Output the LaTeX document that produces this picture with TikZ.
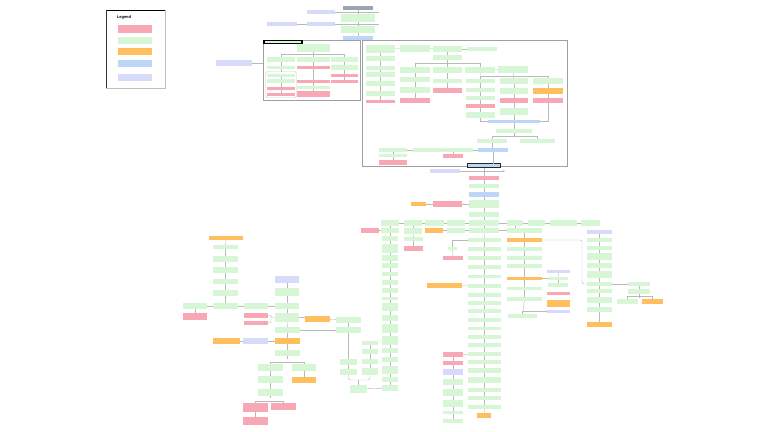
\documentclass[tikz,border=0pt]{standalone}
\usepackage{fontspec}
\setmainfont{Liberation Sans}
\usetikzlibrary{arrows.meta}
\definecolor{cr}{HTML}{F7A8B4}
\definecolor{cg}{HTML}{D6F6D6}
\definecolor{co}{HTML}{FFBF5E}
\definecolor{cb}{HTML}{BDD5F7}
\definecolor{cl}{HTML}{D8DAFA}
\definecolor{cgr}{HTML}{9DA6AE}
\tikzset{
 box/.style={inner sep=0pt, outer sep=0pt, draw=none},
 R/.style={box, fill=cr}, G/.style={box, fill=cg}, O/.style={box, fill=co},
 B/.style={box, fill=cb}, L/.style={box, fill=cl}, K/.style={box, fill=cgr},
 ln/.style={draw=gray!55, line width=0.4pt},
 fr/.style={draw=gray!75, line width=0.6pt},
}
\newcommand\bx[6]{\node[#1, minimum width={(#4-#3)*1pt}, minimum height={(#6-#5)*1pt}] (#2) at ({(#3+#4)/2},{(#5+#6)/2}) {};}
\newcommand\chain[1]{\gdef\prevnode{}\foreach \cc in {#1}{\ifx\prevnode\empty\else\draw[ln] (\prevnode) -- (\cc);\fi\xdef\prevnode{\cc}}}
\begin{document}
\begin{tikzpicture}[x=1pt,y=-1pt]
\useasboundingbox (0,0) rectangle (768,431);
\fill[white] (0,0) rectangle (768,431);
% ---------- Legend
\draw[gray!50, line width=0.4pt] (106,10) rectangle (165,88);
\draw[black, line width=0.9pt] (106,10) -- (165,10);
\draw[black!80, line width=0.6pt] (106,10) -- (106,88);
\node[font=\bfseries\fontsize{4}{5}\selectfont] (lgt) at (124,17) {Legend};
\bx{R}{lg1}{118}{152}{25}{33}
\bx{G}{lg2}{118}{152}{37}{44}
\bx{O}{lg3}{118}{152}{48}{55}
\bx{B}{lg4}{118}{152}{60}{67}
\bx{L}{lg5}{118}{152}{74}{81}
% ---------- Top
\bx{K}{t0}{343}{373}{6}{10}
\bx{L}{t1}{307}{335}{10}{14}
\bx{G}{t2}{341}{375}{14}{22}
\bx{L}{t3}{267}{297}{22}{26}
\bx{L}{t4}{307}{335}{22}{26}
\bx{G}{t5}{341}{375}{26}{33}
\bx{B}{t6}{343}{373}{36}{40}
\bx{L}{t7}{216}{252}{60}{66}
\coordinate (tj) at (358,41);
\coordinate (fj) at (263,63);
\coordinate (tr1) at (379,12);
\coordinate (tr2) at (379,24);
\draw[ln] (t0) -- (t2);
\draw[ln] (t1.east) -- (tr1);
\draw[ln] (t3) -- (t4);
\draw[ln] (t4.east) -- (tr2);
\draw[ln] (t2) -- (t5);
\draw[ln] (t5) -- (t6);
\draw[ln] (t6) -- (tj);
\draw[ln] (t7) -- (fj);
% ---------- Frame 1
\draw[fr] (263,40) rectangle (360,100);
\fill[black] (263,39.5) rectangle (303,44);
\bx{G}{f0}{265}{301}{40.5}{43}
\bx{G}{f1}{297}{330}{44}{52}
\bx{G}{f2}{267}{295}{57}{62}
\bx{G}{f3}{297}{330}{57}{62}
\bx{G}{f4}{331}{358}{57}{62}
\bx{G}{f5}{267}{295}{66}{69}
\draw[gray!40, line width=0.4pt, rounded corners=1.5pt] (265.5,71.5) rectangle (296.5,97.5);
\bx{G}{f6}{267}{295}{74}{77}
\bx{G}{f7}{267}{295}{79}{83}
\bx{R}{f8}{267}{295}{87}{90}
\bx{R}{f9}{267}{295}{93}{96}
\bx{R}{f10}{297}{330}{66}{69}
\bx{R}{f11}{297}{330}{80}{83}
\bx{G}{f12}{297}{330}{86}{89}
\bx{R}{f13}{297}{330}{91}{97}
\bx{G}{f14}{331}{358}{65}{70}
\bx{R}{f15}{331}{358}{74}{77}
\bx{R}{f16}{331}{358}{80}{83}
\draw[ln] (f1) -- (f3);
\draw[ln] (f2.north) -- ++(0,-2.5) -| (f4.north);
\chain{f2,f5}
\draw[ln] (f5.south) -- (281,71.5);
\chain{f6,f7,f8,f9}
\chain{f3,f10,f11,f12,f13}
\chain{f4,f14,f15,f16}
% ---------- Frame 2
\draw[fr] (362,40) rectangle (567,166);
\bx{G}{a1}{366}{395}{45}{53}
\bx{G}{a2}{366}{395}{56}{61}
\bx{G}{a3}{366}{395}{66}{70}
\bx{G}{a4}{366}{395}{72}{77}
\bx{G}{a5}{366}{395}{81}{86}
\bx{G}{a6}{366}{395}{91}{96}
\bx{R}{a7}{366}{395}{100}{103}
\bx{G}{b1}{400}{430}{45}{52}
\bx{G}{b2}{400}{430}{67}{73}
\bx{G}{b3}{400}{430}{77}{82}
\bx{G}{b4}{400}{430}{87}{93}
\bx{R}{b5}{400}{430}{98}{103}
\bx{G}{c1}{433}{462}{46}{52}
\bx{G}{c2}{433}{462}{55}{60}
\bx{G}{c3}{433}{462}{67}{73}
\bx{G}{c4}{433}{462}{79}{83}
\bx{R}{c5}{433}{462}{88}{93}
\bx{G}{d1}{467}{497}{47}{51}
\bx{G}{d2}{465}{495}{67}{73}
\bx{G}{d3}{466}{495}{79}{83}
\bx{G}{d4}{466}{495}{88}{92}
\bx{G}{d5}{466}{495}{96}{100}
\bx{R}{d6}{466}{495}{104}{108}
\bx{G}{d7}{466}{495}{112}{118}
\bx{G}{e1}{498}{528}{66}{73}
\bx{G}{e2}{500}{528}{78}{84}
\bx{G}{e3}{500}{528}{88}{94}
\bx{R}{e4}{500}{528}{98}{103}
\bx{G}{e5}{500}{528}{108}{115}
\bx{G}{g1}{533}{563}{78}{84}
\bx{O}{g2}{533}{563}{88}{94}
\bx{R}{g3}{533}{563}{98}{103}
\bx{B}{h1}{488}{540}{120}{123}
\bx{G}{h2}{496}{532}{129}{133}
\bx{G}{h3}{477}{507}{139}{143}
\bx{G}{h4}{520}{555}{139}{143}
\bx{B}{h5}{478}{508}{148}{152}
\bx{G}{i1}{443}{473}{148}{152}
\bx{G}{i2}{413}{442}{148}{152}
\bx{G}{i3}{379}{407}{148}{152}
\bx{R}{i4}{443}{463}{154}{158}
\bx{G}{i5}{379}{407}{154}{157}
\bx{R}{i6}{379}{407}{160}{165}
\chain{a1,a2,a3,a4,a5,a6,a7}
\draw[ln] (a1) -- (b1);
\draw[ln] (b1) -- (c1);
\draw[ln] (c1) -- (d1);
\draw[ln] (c1) -- (c2);
\draw[ln] (c2) -- (c3);
\draw[ln] (b2.north) -- ++(0,-4) -| (d2.north);
\draw[ln] (d2) -- (e1);
\draw[ln] (d3.north) -- ++(0,-3) -| (g1.north);
\draw[ln] (e1) -- (e2);
\chain{b2,b3,b4,b5}
\chain{c3,c4,c5}
\chain{d2,d3,d4,d5,d6,d7}
\chain{e2,e3,e4,e5}
\chain{g1,g2,g3}
\draw[ln] (d7.south) |- (h1.west);
\draw[ln] (e5) -- (e5 |- h1.north);
\draw[ln] (g3.south) |- (h1.east);
\draw[ln] (h1) -- (h1 |- h2.north);
\draw[ln] (h2.south -| h2) -- ++(0,3);
\draw[ln] (h3.north) -- ++(0,-3) -| (h4.north);
\draw[ln] (h3) -- (h3 |- h5.north);
\draw[ln] (h5) -- (i1);
\draw[ln] (i1) -- (i2);
\draw[ln] (i2) -- (i3);
\draw[ln] (i4) -- (i4 |- i1.south);
\chain{i3,i5,i6}
% ---------- Lower main
\node[B, draw=black!85, line width=0.9pt, minimum width=33pt, minimum height=4pt] (k0) at (484,165.5) {};
\draw[ln] (h5) -- (h5 |- k0.north);
\bx{L}{k1}{430}{460}{169}{173}
\coordinate (k1e) at (505,171);
\draw[ln, -{Stealth[length=2pt]}] (k1) -- (k1e);
\bx{R}{k2}{469}{499}{176}{180}
\bx{G}{k3}{469}{499}{184}{188}
\bx{B}{k4}{469}{499}{192}{197}
\bx{G}{k5}{469}{499}{200}{208}
\bx{R}{k6}{433}{462}{201}{207}
\bx{O}{k7}{411}{426}{202}{206}
\bx{G}{k8}{469}{499}{212}{217}
\bx{G}{r1}{381}{399}{220}{226}
\bx{G}{r2}{404}{422}{220}{226}
\bx{G}{r3}{425}{444}{220}{226}
\bx{G}{r4}{447}{465}{220}{226}
\bx{G}{r5}{469}{499}{220}{226}
\bx{G}{r6}{507}{523}{220}{226}
\bx{G}{r7}{528}{545}{220}{226}
\bx{G}{r8}{550}{577}{220}{226}
\bx{G}{r9}{581}{600}{220}{226}
\bx{R}{s0}{361}{379}{228}{233}
\bx{G}{s1}{381}{399}{228}{233}
\bx{G}{s2}{404}{422}{228}{234}
\bx{O}{s3}{425}{443}{228}{233}
\bx{G}{s4}{447}{465}{228}{233}
\bx{G}{s5}{469}{499}{228}{233}
\bx{G}{s6}{507}{542}{228}{233}
\chain{k0,k2,k3,k4,k5,k8,r5,s5}
\draw[ln] (k5) -- (k6);
\draw[ln] (k6) -- (k7);
\chain{r1,r2,r3,r4,r5,r6,r7,r8,r9}
\draw[ln] (s0) -- (s1);
\draw[ln] (s3) -- (s4);
\draw[ln] (s4) -- (s5);
\draw[ln] (s5) -- (s6);
\draw[ln] (r1) -- (s1);
\draw[ln] (r2) -- (s2);
\draw[ln] (r6) -- (r6 |- s6.north);
% column X
\bx{G}{x1}{382}{398}{236}{241}
\bx{G}{x2}{382}{398}{244}{253}
\bx{G}{x3}{382}{398}{255}{261}
\bx{G}{x4}{382}{398}{263}{268}
\bx{G}{x5}{382}{398}{272}{276}
\bx{G}{x6}{382}{398}{280}{285}
\bx{G}{x7}{382}{398}{288}{293}
\bx{G}{x8}{382}{398}{297}{300}
\bx{G}{x9}{382}{398}{303}{311}
\bx{G}{x10}{382}{398}{315}{321}
\bx{G}{x11}{382}{398}{324}{333}
\bx{G}{x12}{382}{398}{336}{345}
\bx{G}{x13}{382}{398}{348}{353}
\bx{G}{x14}{382}{398}{357}{362}
\bx{G}{x15}{382}{398}{366}{374}
\bx{G}{x16}{382}{398}{377}{382}
\bx{G}{x17}{382}{398}{385}{391}
\chain{s1,x1,x2,x3,x4,x5,x6,x7,x8,x9,x10,x11,x12,x13,x14,x15,x16,x17}
% column Y
\bx{G}{y1}{404}{423}{237}{241}
\bx{R}{y2}{404}{423}{246}{251}
\chain{s2,y1,y2}
% main column
\bx{G}{m1}{468}{501}{238}{242}
\bx{G}{m2}{468}{501}{247}{251}
\bx{G}{m3}{468}{501}{256}{260}
\bx{G}{m4}{468}{501}{265}{269}
\bx{G}{m5}{468}{501}{275}{278}
\bx{G}{m6}{468}{501}{284}{288}
\bx{G}{m7}{468}{501}{293}{297}
\bx{G}{m8}{468}{501}{301}{305}
\bx{G}{m9}{468}{501}{309}{313}
\bx{G}{m10}{468}{501}{318}{322}
\bx{G}{m11}{468}{501}{327}{330}
\bx{G}{m12}{468}{501}{335}{339}
\bx{G}{m13}{468}{501}{343}{347}
\bx{G}{m14}{468}{501}{352}{356}
\bx{G}{m15}{468}{501}{360}{364}
\bx{G}{m16}{468}{501}{368}{373}
\bx{G}{m17}{468}{501}{377}{383}
\bx{G}{m18}{468}{501}{388}{392}
\bx{G}{m19}{468}{501}{396}{400}
\bx{G}{m20}{468}{501}{405}{409}
\bx{O}{m21}{477}{491}{413}{418}
\chain{s5,m1,m2,m3,m4,m5,m6,m7,m8,m9,m10,m11,m12,m13,m14,m15,m16,m17,m18,m19,m20,m21}
\bx{G}{l0}{448}{457}{247}{250}
\bx{R}{l1}{443}{463}{256}{260}
\draw[ln] (m1.west) -| (l0.north);
\draw[ln] (l0) -- (l1);
\bx{O}{o1}{427}{462}{283}{288}
\draw[ln] (o1) -- (m6);
\bx{R}{l2}{443}{463}{352}{357}
\bx{R}{l3}{443}{463}{361}{365}
\bx{L}{l4}{443}{463}{369}{375}
\bx{G}{l5}{443}{463}{379}{385}
\bx{G}{l6}{443}{463}{389}{396}
\bx{G}{l7}{443}{463}{400}{407}
\bx{G}{l8}{443}{463}{411}{414}
\bx{G}{l9}{443}{463}{419}{423}
\draw[ln] (l2) -- (m14);
\chain{l2,l3,l4,l5,l6,l7,l8,l9}
% column N
\bx{O}{n1}{507}{542}{238}{242}
\bx{G}{n2}{507}{542}{247}{251}
\bx{G}{n3}{507}{542}{256}{260}
\bx{G}{n4}{507}{542}{264}{268}
\bx{O}{n5}{507}{542}{277}{280}
\bx{G}{n6}{507}{542}{287}{290}
\bx{G}{n7}{507}{542}{297}{301}
\bx{G}{n8}{508}{537}{314}{318}
\chain{s6,n1,n2,n3,n4,n5,n6,n7,n8}
\bx{L}{q1}{547}{570}{270}{273}
\bx{G}{q2}{548}{568}{277}{280}
\bx{G}{q3}{548}{568}{283}{287}
\bx{R}{q4}{547}{570}{292}{295}
\bx{O}{q5}{547}{570}{300}{307}
\bx{L}{q6}{547}{570}{310}{313}
\chain{q1,q2,q3}
\draw[ln] (n5) -- (q2);
\draw[ln] (q6.west) -| (n8.north);
% column P
\bx{L}{p1}{587}{612}{230}{234}
\bx{G}{p2}{587}{612}{238}{242}
\bx{G}{p3}{587}{612}{246}{250}
\bx{G}{p4}{587}{612}{253}{260}
\bx{G}{p5}{587}{612}{263}{268}
\bx{G}{p6}{587}{612}{271}{278}
\bx{G}{p7}{587}{612}{282}{286}
\bx{G}{p8}{587}{612}{289}{293}
\bx{G}{p9}{587}{612}{297}{303}
\bx{G}{p10}{587}{612}{307}{312}
\bx{O}{p11}{587}{612}{322}{327}
\chain{p1,p2,p3,p4,p5,p6,p7,p8,p9,p10,p11}
\draw[ln, rounded corners=1.5pt] (n1.east) -- (582,240) -- (582,284) -- (p7.west);
\bx{G}{tt1}{628}{650}{282}{286}
\bx{G}{tt2}{628}{650}{289}{294}
\bx{G}{uu1}{617}{638}{299}{304}
\bx{O}{uu2}{642}{663}{299}{304}
\draw[ln] (p7) -- (tt1);
\draw[ln] (tt1) -- (tt2);
\draw[ln] (tt2) -- ++(0,6.5);
\draw[ln] (uu1.north) -- ++(0,-2.5) -| (uu2.north);
% ---------- Left bottom
\bx{O}{w0}{209}{243}{236}{240}
\bx{G}{w1}{213}{238}{245}{249}
\bx{G}{w2}{213}{238}{256}{262}
\bx{G}{w3}{213}{238}{267}{273}
\bx{G}{w4}{213}{238}{279}{284}
\bx{G}{w5}{213}{238}{290}{296}
\bx{G}{w6}{213}{238}{303}{309}
\bx{G}{v1}{183}{207}{303}{309}
\bx{R}{v2}{183}{207}{313}{320}
\bx{G}{z1}{244}{268}{303}{309}
\bx{L}{zl}{275}{299}{276}{283}
\bx{G}{za}{275}{299}{288}{296}
\bx{G}{z2}{275}{299}{303}{309}
\bx{R}{zr1}{244}{268}{313}{318}
\bx{R}{zr2}{244}{268}{321}{325}
\bx{G}{z3}{275}{299}{313}{322}
\bx{O}{zo3}{305}{330}{316}{322}
\bx{G}{cc1}{336}{361}{317}{323}
\bx{G}{cc2}{336}{361}{327}{333}
\bx{G}{z4}{275}{300}{327}{333}
\bx{O}{zo}{275}{300}{338}{344}
\bx{L}{zlv}{243}{268}{338}{344}
\bx{O}{zo2}{213}{240}{338}{344}
\bx{G}{z5}{275}{300}{350}{356}
\bx{G}{z6}{258}{283}{364}{371}
\bx{G}{z7}{292}{316}{364}{371}
\bx{O}{z7o}{292}{316}{377}{383}
\bx{G}{z8}{258}{283}{376}{383}
\bx{G}{z9}{258}{283}{389}{396}
\bx{R}{zr3}{243}{268}{403}{412}
\bx{R}{zr4}{271}{296}{403}{410}
\bx{R}{zr5}{243}{268}{417}{425}
\chain{w0,w1,w2,w3,w4,w5,w6}
\draw[ln] (v1) -- (w6);
\draw[ln] (v1) -- (v2);
\draw[ln] (w6) -- (z1);
\draw[ln] (z1) -- (z2);
\chain{zl,za,z2,z3,z4,zo,z5}
\draw[ln, rounded corners=1pt] (zr1.east) -- (271,315.5) -- (271,317.5) -- (z3.west);
\draw[ln, rounded corners=1pt] (zr2.east) -- (271,323) -- (271,317.5);
\draw[ln] (z3.east) -- (z3.east -| zo3.west);
\draw[ln] (zo3) -- (cc1);
\draw[ln] (cc1) -- (cc2);
\draw[ln] (z4) -- (cc2);
\draw[ln] (zo) -- (zlv);
\draw[ln] (zlv) -- (zo2);
\draw[ln] (z5) -- ++(0,6);
\draw[ln] (z6.north) -- ++(0,-2) -| (z7.north);
\draw[ln] (z7) -- (z7o);
\chain{z6,z8,z9}
\draw[ln] (z9) -- ++(0,5);
\draw[ln] (zr3.north) -- ++(0,-2) -| (zr4.north);
\draw[ln] (zr3) -- (zr5);
% ---------- Bottom middle group
\bx{G}{dd1}{340}{357}{359}{365}
\bx{G}{dd2}{340}{357}{369}{375}
\bx{G}{ee1}{362}{378}{341}{345}
\bx{G}{ee2}{362}{378}{349}{354}
\bx{G}{ee3}{362}{378}{359}{364}
\bx{G}{ee4}{362}{378}{368}{375}
\bx{G}{ff}{350}{367}{385}{393}
\draw[ln] (cc2) -- (dd1);
\draw[ln] (dd1) -- (dd2);
\chain{ee1,ee2,ee3,ee4}
\draw[ln, rounded corners=2pt] (dd2.south) -- (348.5,380) -- (370,380) -- (ee4.south);
\draw[ln] (358.5,380) -- (ff.north);
\draw[ln] (ff) -- (x17);
\end{tikzpicture}
\end{document}
